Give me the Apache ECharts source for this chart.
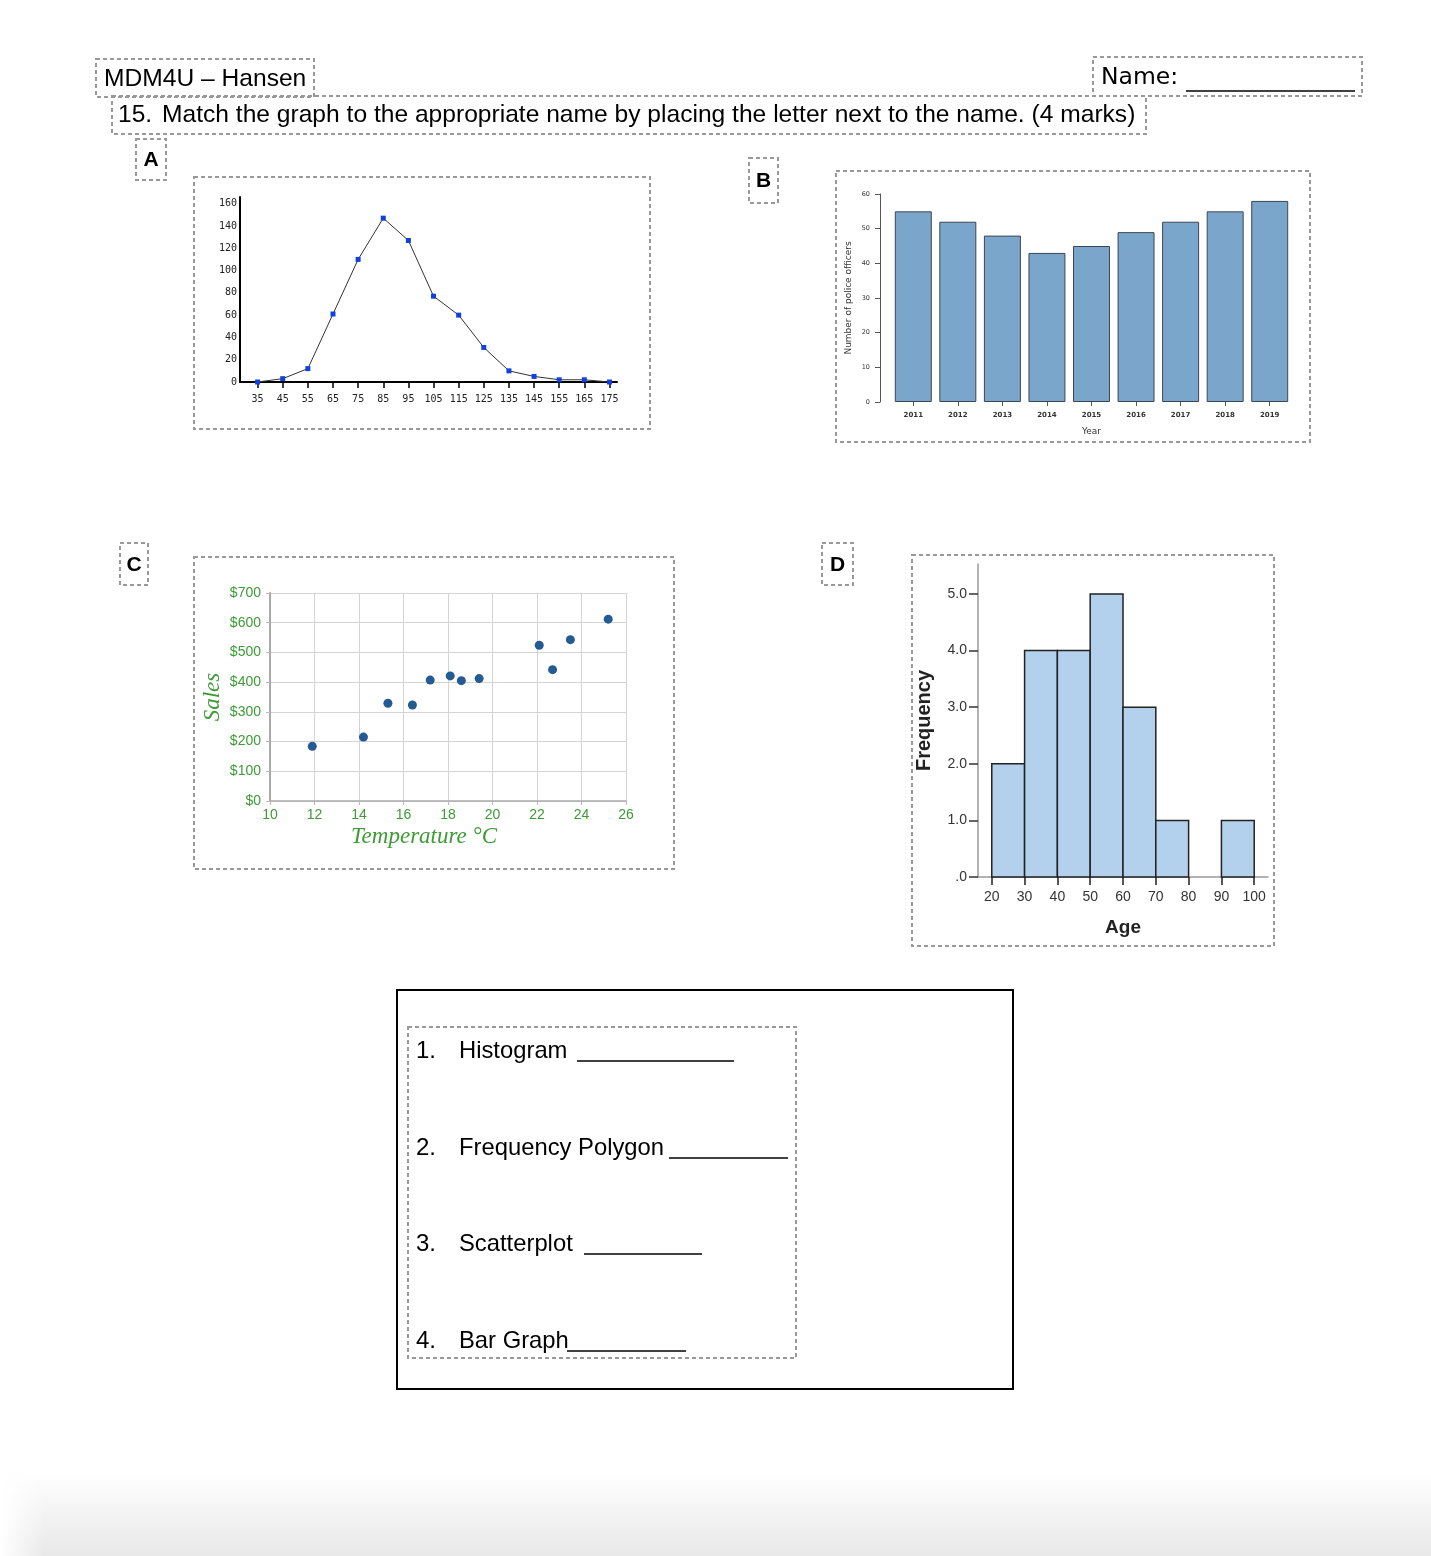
<!DOCTYPE html>
<html><head><meta charset="utf-8">
<script src="https://cdn.jsdelivr.net/npm/echarts@6/dist/echarts.min.js"></script>
<style>html,body{margin:0;padding:0;background:#fff;}#main{width:1431px;height:1556px;}</style>
</head><body><div id="main"></div>
<script>
// ---- Graph A: frequency polygon ----
const polyClassMarks = [35,45,55,65,75,85,95,105,115,125,135,145,155,165,175];
const polyFrequencies = [0,3,12,61,110,147,127,77,60,31,10,5,2,2,0];
const polyYTicks = [0,20,40,60,80,100,120,140,160];

// ---- Graph B: bar graph ----
const barYears = ['2011','2012','2013','2014','2015','2016','2017','2018','2019'];
const barOfficers = [55,52,48,43,45,49,52,55,58];

// ---- Graph C: scatterplot ----
const scatterTemps = [11.9,14.2,15.3,16.4,17.2,18.1,18.6,19.4,22.1,22.7,23.5,25.2];
const scatterSales = [184,215,329,323,407,421,405,412,524,442,543,612];

// ---- Graph D: histogram ----
const histBinStart = [20,30,40,50,60,70,80,90];
const histBinEnd = [30,40,50,60,70,80,90,100];
const histFrequency = [2,4,4,5,3,1,0,1];
const histXTicks = [20,30,40,50,60,70,80,90,100];
const histYTicks = [0,1,2,3,4,5];

// ---- Worksheet text ----
const headerLeft = 'MDM4U – Hansen';
const headerName = 'Name:';
const questionNum = '15.';
const questionText = 'Match the graph to the appropriate name by placing the letter next to the name. (4 marks)';
const graphLetters = ['A','B','C','D'];
const answerNums = ['1.','2.','3.','4.'];
const answerNames = ['Histogram','Frequency Polygon','Scatterplot','Bar Graph'];

const SANS = 'Liberation Sans';
const GREEN = '#3d9b35';
const DASH = {fill:'none', stroke:'#999', lineWidth:2, lineDash:[4,3]};

function dashedBox(x,y,w,h){ return {type:'rect', shape:{x:x,y:y,width:w,height:h}, style:Object.assign({},DASH), z:1}; }
function txt(t,x,y,opts){
  opts = opts||{};
  return {type:'text', x:x, y:y, z:5, style:{text:t, fill:opts.fill||'#000',
    font:(opts.weight||'normal')+' '+(opts.size||24)+'px "'+(opts.family||SANS)+'"',
    textAlign:opts.align||'left', textVerticalAlign:'middle', align:opts.align||'left', verticalAlign:'middle'}};
}
function hline(x1,x2,y){ return {type:'line', z:5, shape:{x1:x1,y1:y,x2:x2,y2:y}, style:{stroke:'#000', lineWidth:1.5}}; }

const graphics = [];
// bottom page shadow
graphics.push({type:'rect', z:0, shape:{x:0,y:1470,width:1431,height:86},
  style:{fill:new echarts.graphic.LinearGradient(0,0,0,1,[{offset:0,color:'rgba(0,0,0,0)'},{offset:1,color:'rgba(0,0,0,0.09)'}])}});
graphics.push({type:'rect', z:0, shape:{x:0,y:1470,width:45,height:86},
  style:{fill:new echarts.graphic.LinearGradient(0,0,1,0,[{offset:0,color:'rgba(255,255,255,1)'},{offset:1,color:'rgba(255,255,255,0)'}])}});
// header
graphics.push(dashedBox(96,59,218,38));
graphics.push(txt(headerLeft,104,79,{size:24.6}));
graphics.push(dashedBox(1093,57,269,39));
graphics.push(txt(headerName,1101,78,{size:23.5,family:'DejaVu Sans'}));
graphics.push(hline(1186,1355,91));
graphics.push(dashedBox(112,96,1034,38));
graphics.push(txt(questionNum,118,115,{size:24.5}));
graphics.push(txt(questionText,162,115,{size:24.6}));
// letter boxes
const letterBoxes = [[136,139,30,41],[749,158,29,45],[120,543,28,42],[822,543,31,42]];
letterBoxes.forEach((b,i)=>{
  graphics.push(dashedBox(b[0],b[1],b[2],b[3]));
  graphics.push(txt(graphLetters[i], b[0]+b[2]/2, b[1]+b[3]/2+1, {size:21, weight:'bold', align:'center'}));
});
// chart frames
graphics.push(dashedBox(194,177,456,252));
graphics.push(dashedBox(836,171,474,271));
graphics.push(dashedBox(194,557,480,312));
graphics.push(dashedBox(912,555,362,391));
// answer box
graphics.push({type:'rect', z:1, shape:{x:397,y:990,width:616,height:399}, style:{fill:'none', stroke:'#000', lineWidth:2}});
graphics.push(dashedBox(408,1027,388,331));
const answerY = [1050,1147,1243,1340];
const answerLines = [[577,734],[669,788],[584,702],[567,686]];
answerNames.forEach((n,i)=>{
  graphics.push(txt(answerNums[i],416,answerY[i]+1,{size:24}));
  graphics.push(txt(n,459,answerY[i]+1,{size:23.8}));
  graphics.push(hline(answerLines[i][0],answerLines[i][1],answerY[i]+11));
});

const chart = echarts.init(document.getElementById('main'), null, {renderer:'canvas'});
chart.setOption({
  animation:false,
  backgroundColor:'#fff',
  graphic:{elements:graphics},
  grid:[
    {left:240, top:197, width:377, height:185, outerBoundsMode:'none'},
    {left:891, top:194, width:401, height:208, outerBoundsMode:'none'},
    {left:270, top:593, width:356, height:208, outerBoundsMode:'none'},
    {left:978, top:564, width:290, height:313, outerBoundsMode:'none'}
  ],
  xAxis:[
    {gridIndex:0, type:'value', min:28, max:178,
     axisLine:{show:true, onZero:false, lineStyle:{color:'#000', width:2}},
     axisTick:{show:true, customValues:polyClassMarks, length:6, lineStyle:{color:'#000', width:1.5}},
     axisLabel:{customValues:polyClassMarks, margin:12, fontFamily:'DejaVu Sans Mono', fontSize:10, color:'#222'},
     splitLine:{show:false}},
    {gridIndex:1, type:'category', data:barYears,
     axisLine:{show:false},
     axisTick:{show:true, alignWithLabel:true, length:4, lineStyle:{color:'#555'}},
     axisLabel:{fontFamily:'DejaVu Sans', fontSize:7, fontWeight:'bold', color:'#333', margin:10},
     name:'Year', nameLocation:'middle', nameGap:25,
     nameTextStyle:{fontFamily:'DejaVu Sans', fontSize:9, color:'#333'}},
    {gridIndex:2, type:'value', min:10, max:26, interval:2,
     axisLine:{show:true, onZero:false, lineStyle:{color:'#aaa', width:1.5}},
     axisTick:{show:true, length:4, lineStyle:{color:'#bbb'}},
     axisLabel:{color:GREEN, fontFamily:SANS, fontSize:14, margin:7},
     splitLine:{show:true, lineStyle:{color:'#d4d4d4'}},
     name:'Temperature °C', nameLocation:'middle', nameGap:24,
     nameTextStyle:{color:GREEN, fontFamily:'Liberation Serif', fontStyle:'italic', fontSize:23, padding:[0,48,0,0]}},
    {gridIndex:3, type:'value', min:15.8, max:104.2,
     axisLine:{show:true, onZero:false, lineStyle:{color:'#999', width:1.5}},
     axisTick:{show:true, customValues:histXTicks, length:8, lineStyle:{color:'#222', width:1.5}},
     axisLabel:{customValues:histXTicks, color:'#333', fontFamily:SANS, fontSize:14, margin:13},
     splitLine:{show:false},
     name:'Age', nameLocation:'middle', nameGap:41,
     nameTextStyle:{color:'#222', fontFamily:SANS, fontWeight:'bold', fontSize:19}}
  ],
  yAxis:[
    {gridIndex:0, type:'value', min:0, max:166,
     axisLine:{show:true, lineStyle:{color:'#000', width:2}},
     axisTick:{show:false},
     axisLabel:{customValues:polyYTicks, margin:3, fontFamily:'DejaVu Sans Mono', fontSize:10, color:'#222'},
     splitLine:{show:false}},
    {gridIndex:1, type:'value', min:0, max:60, interval:10, offset:11,
     axisLine:{show:true, lineStyle:{color:'#555'}},
     axisTick:{show:true, length:5, lineStyle:{color:'#555'}},
     axisLabel:{fontFamily:'DejaVu Sans', fontSize:6.5, color:'#333', margin:10},
     splitLine:{show:false},
     name:'Number of police officers', nameLocation:'middle', nameGap:27, nameRotate:90,
     nameTextStyle:{fontFamily:'DejaVu Sans', fontSize:9, color:'#333'}},
    {gridIndex:2, type:'value', min:0, max:700, interval:100,
     axisLine:{show:true, lineStyle:{color:'#aaa', width:2}},
     axisTick:{show:true, length:4, lineStyle:{color:'#bbb'}},
     axisLabel:{color:GREEN, fontFamily:SANS, fontSize:14, margin:9, formatter:function(v){return '$'+v;}},
     splitLine:{show:true, lineStyle:{color:'#d4d4d4'}},
     name:'Sales', nameLocation:'middle', nameGap:46, nameRotate:90,
     nameTextStyle:{color:GREEN, fontFamily:'Liberation Serif', fontStyle:'italic', fontSize:23}},
    {gridIndex:3, type:'value', min:0, max:5.53,
     axisLine:{show:true, lineStyle:{color:'#999', width:1.5}},
     axisTick:{show:true, customValues:histYTicks, length:9, lineStyle:{color:'#333', width:1.5}},
     axisLabel:{customValues:histYTicks, color:'#333', fontFamily:SANS, fontSize:14, margin:11,
       formatter:function(v){return v===0?'.0':v.toFixed(1);}},
     splitLine:{show:false},
     name:'Frequency', nameLocation:'middle', nameGap:44, nameRotate:90,
     nameTextStyle:{color:'#222', fontFamily:SANS, fontWeight:'bold', fontSize:20}}
  ],
  series:[
    {type:'line', xAxisIndex:0, yAxisIndex:0,
     data:polyClassMarks.map(function(x,i){return [x, polyFrequencies[i]];}),
     symbol:'rect', symbolSize:5, showAllSymbol:true,
     lineStyle:{color:'#333', width:1}, itemStyle:{color:'#1040e0'}, z:3},
    {type:'bar', xAxisIndex:1, yAxisIndex:1, data:barOfficers, barCategoryGap:'17%',
     itemStyle:{color:'#7ba6cb', borderColor:'#3d4651', borderWidth:1}},
    {type:'scatter', xAxisIndex:2, yAxisIndex:2,
     data:scatterTemps.map(function(t,i){return [t, scatterSales[i]];}),
     symbolSize:9, itemStyle:{color:'#255b94', opacity:1}},
    {type:'custom', xAxisIndex:3, yAxisIndex:3,
     data:histBinStart.map(function(s,i){return [s, histBinEnd[i], histFrequency[i]];}),
     encode:{x:[0,1], y:2},
     renderItem:function(params, api){
       var f = api.value(2);
       if (!f) return null;
       var p0 = api.coord([api.value(0), f]);
       var p1 = api.coord([api.value(1), 0]);
       return {type:'rect', shape:{x:p0[0], y:p0[1], width:p1[0]-p0[0], height:p1[1]-p0[1]},
               style:{fill:'#b3d0ec', stroke:'#222', lineWidth:1.5}};
     }}
  ]
});
</script>
</body></html>
